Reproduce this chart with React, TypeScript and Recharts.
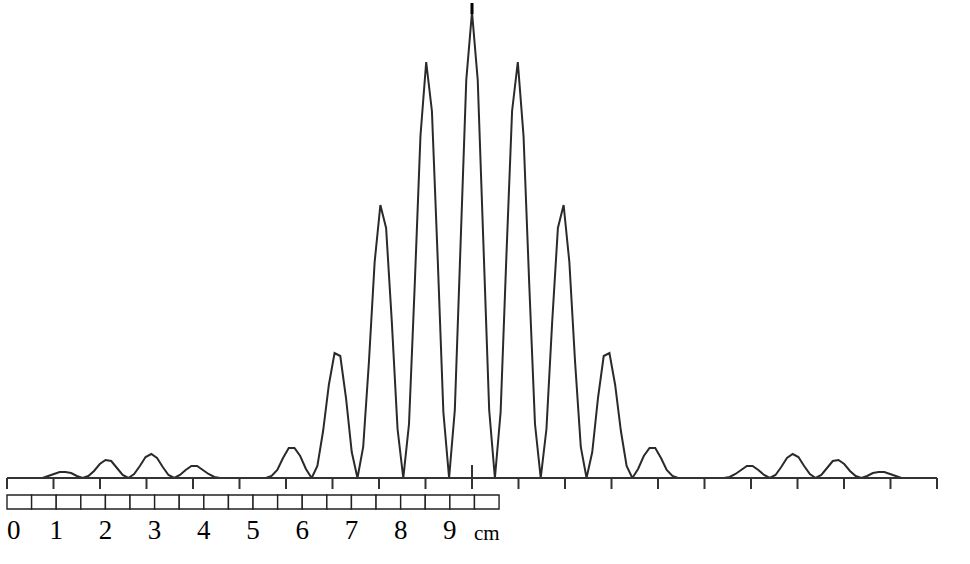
import {
  ComposedChart,
  Line,
  ReferenceArea,
  ReferenceLine,
  XAxis,
  YAxis,
} from "recharts";

// fringe order (0 = centre) and intensity samples,
// left to right, at the offsets in sampleOffsets (1/8 fringe steps)
const fringeOrders = [-9, -8, -7, -6, -5, -4, -3, -2, -1, 0, 1, 2, 3, 4, 5, 6, 7, 8, 9];
const sampleOffsets = [-0.5, -0.375, -0.25, -0.125, 0, 0.125, 0.25, 0.375];
const fringeHeights = [
  [0, 0, 2, 4, 6, 6, 5, 2],
  [0, 2, 7, 14, 18, 17, 10, 3],
  [0, 4, 12, 21, 24, 20, 11, 3],
  [0, 3, 8, 12, 12, 8, 4, 1],
  [0, 0, 0, 0, 0, 0, 0, 0],
  [0, 2, 8, 20, 30, 30, 22, 9],
  [0, 12, 47, 93, 125, 122, 80, 26],
  [0, 31, 116, 216, 273, 250, 156, 49],
  [0, 54, 193, 342, 416, 367, 221, 66],
  [0, 68, 233, 398, 466, 398, 233, 68],
  [0, 66, 221, 367, 416, 342, 193, 54],
  [0, 49, 156, 250, 273, 216, 116, 31],
  [0, 26, 80, 122, 125, 93, 47, 12],
  [0, 9, 22, 30, 30, 20, 8, 2],
  [0, 0, 0, 0, 0, 0, 0, 0],
  [0, 1, 4, 8, 12, 12, 8, 3],
  [0, 3, 11, 20, 24, 21, 12, 4],
  [0, 3, 10, 17, 18, 14, 7, 2],
  [0, 2, 5, 6, 6, 4, 2, 0],
];
const traceEnd = { order: 9.5, intensity: 0 };

const screenTicks = [0, 1, 2, 3, 4, 5, 6, 7, 8, 9, 10, 11, 12, 13, 14, 15, 16, 17, 18, 19, 20];
const rulerEdges = [0, 0.5, 1, 1.5, 2, 2.5, 3, 3.5, 4, 4.5, 5, 5.5, 6, 6.5, 7, 7.5, 8, 8.5, 9, 9.5, 10];
const rulerLabels = [0, 1, 2, 3, 4, 5, 6, 7, 8, 9];
const rulerUnit = { at: 9.75, text: "cm" };

const trace: { order: number; intensity: number }[] = [];
fringeOrders.forEach((n, i) => {
  sampleOffsets.forEach((o, j) => {
    trace.push({ order: n + o, intensity: fringeHeights[i][j] });
  });
});
trace.push(traceEnd);

// empty rows so the screen and cm axes get their own domains
const screenRows = screenTicks.map((t) => ({ screen: t, none: null }));
const rulerRows = rulerEdges.map((c) => ({ cm: c, none: null }));

const ink = "#2a2a2a";
const serif = "'Liberation Serif', 'DejaVu Serif', serif";

function NoLabel() {
  return <g />;
}

function RulerTick(props: any) {
  const { x, y, payload } = props;
  if (payload.value === rulerUnit.at) {
    return (
      <text x={x} y={y + 46} textAnchor="middle" fontSize={21} fontFamily={serif} fill="#000">
        {rulerUnit.text}
      </text>
    );
  }
  return (
    <text
      x={x}
      y={y + 45}
      textAnchor={payload.value === 0 ? "start" : "middle"}
      fontSize={27}
      fontFamily={serif}
      fill="#000"
    >
      {payload.value}
    </text>
  );
}

export default function App() {
  const cells = rulerEdges.slice(0, -1);
  return (
    <div style={{ position: "absolute", left: 0, top: 0, width: 970, height: 564, background: "#fff" }}>
      <ComposedChart
        width={970}
        height={564}
        data={trace}
        margin={{ top: 3, right: 33, bottom: 10, left: 7 }}
      >
        <XAxis
          xAxisId="order"
          dataKey="order"
          type="number"
          domain={[-10.15, 10.15]}
          allowDataOverflow
          hide
        />
        <XAxis
          xAxisId="a-screen"
          dataKey="screen"
          type="number"
          domain={[0, 20]}
          allowDataOverflow
          ticks={screenTicks}
          interval={0}
          tick={<NoLabel />}
          tickSize={11}
          height={16}
          axisLine={{ stroke: "#333", strokeWidth: 2 }}
          tickLine={{ stroke: "#333", strokeWidth: 2 }}
        />
        <XAxis
          xAxisId="b-cm"
          dataKey="cm"
          type="number"
          domain={[0, 18.9]}
          allowDataOverflow
          ticks={[...rulerLabels, rulerUnit.at]}
          interval={0}
          tick={<RulerTick />}
          tickLine={false}
          axisLine={false}
          tickSize={0}
          tickMargin={0}
          height={60}
        />
        <YAxis type="number" domain={[0, 475]} allowDataOverflow hide />

        <Line
          xAxisId="a-screen"
          data={screenRows}
          dataKey="none"
          stroke="none"
          dot={false}
          isAnimationActive={false}
        />
        <Line
          xAxisId="b-cm"
          data={rulerRows}
          dataKey="none"
          stroke="none"
          dot={false}
          isAnimationActive={false}
        />

        {cells.map((c, i) => (
          <ReferenceArea
            key={c}
            xAxisId="b-cm"
            x1={c}
            x2={rulerEdges[i + 1]}
            y1={-31}
            y2={-17}
            ifOverflow="visible"
            fill="#fff"
            fillOpacity={1}
            stroke="#222"
            strokeWidth={1.4}
          />
        ))}

        <Line
          xAxisId="order"
          type="linear"
          dataKey="intensity"
          stroke={ink}
          strokeWidth={2}
          dot={false}
          isAnimationActive={false}
        />
        <ReferenceLine
          xAxisId="order"
          segment={[{ x: 0, y: -11 }, { x: 0, y: 13 }]}
          ifOverflow="visible"
          stroke="#333"
          strokeWidth={2}
        />
        <ReferenceLine
          xAxisId="order"
          segment={[{ x: 0, y: 464 }, { x: 0, y: 475 }]}
          ifOverflow="visible"
          stroke="#000"
          strokeWidth={3}
        />
      </ComposedChart>
    </div>
  );
}
